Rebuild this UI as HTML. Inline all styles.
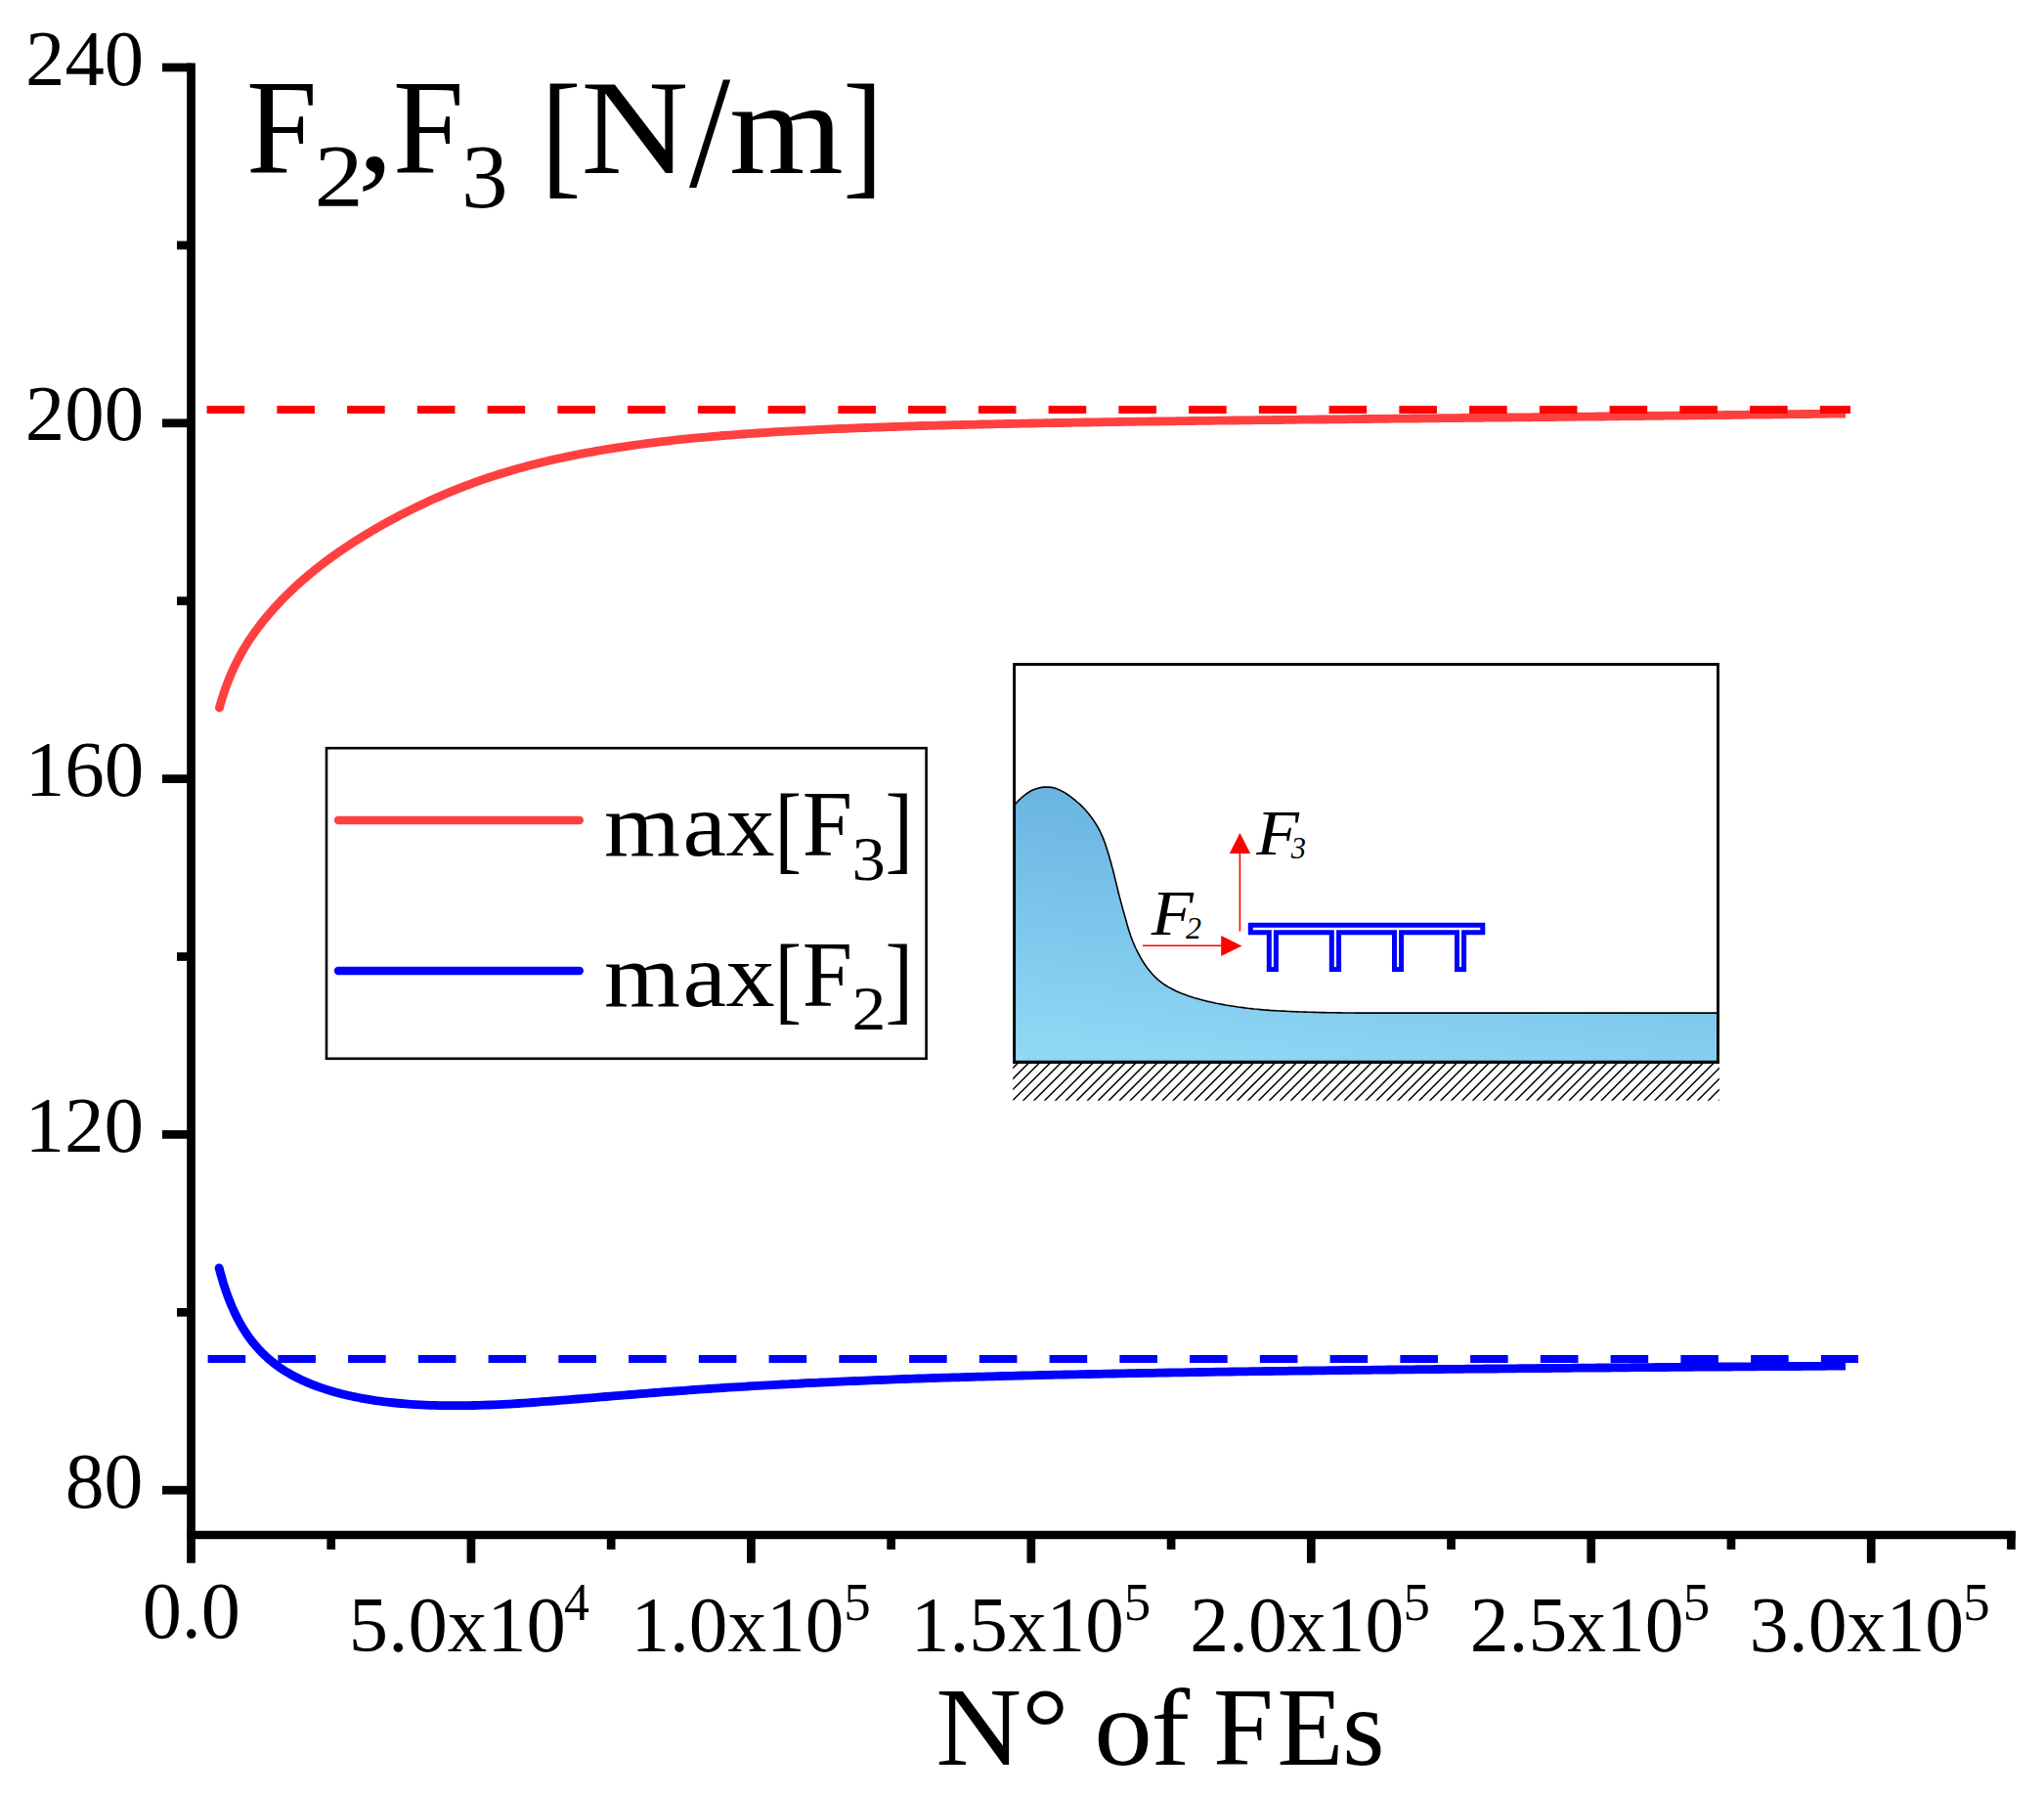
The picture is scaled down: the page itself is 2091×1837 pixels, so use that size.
<!DOCTYPE html>
<html><head><meta charset="utf-8"><title>F2,F3 convergence</title>
<style>html,body{margin:0;padding:0;background:#fff}svg{display:block}text{font-family:"Liberation Serif","DejaVu Serif",serif;white-space:pre;font-kerning:none}</style>
</head><body>
<svg width="2091" height="1837" viewBox="0 0 2091 1837">
<rect width="2091" height="1837" fill="#fff"/>
<g id="curves">
<path d="M224.4 724.0 L225.9 718.8 L227.4 713.8 L228.9 709.2 L230.4 704.8 L231.9 700.7 L233.4 696.7 L234.9 693.0 L236.4 689.4 L237.9 686.0 L239.4 682.7 L240.9 679.6 L242.4 676.6 L243.9 673.6 L245.4 670.8 L246.9 668.1 L248.4 665.5 L249.9 662.9 L251.4 660.5 L252.9 658.0 L254.4 655.7 L255.9 653.4 L257.4 651.2 L258.9 649.0 L260.4 646.9 L261.9 644.8 L263.4 642.8 L264.9 640.8 L266.4 638.8 L267.9 636.9 L269.4 635.0 L270.9 633.2 L272.4 631.4 L273.9 629.6 L275.4 627.8 L276.9 626.1 L278.4 624.4 L279.9 622.7 L281.4 621.0 L282.9 619.4 L284.4 617.8 L285.9 616.2 L287.4 614.6 L288.9 613.0 L290.4 611.5 L291.9 610.0 L293.4 608.5 L294.9 607.0 L296.4 605.6 L297.9 604.1 L299.4 602.7 L300.9 601.3 L302.4 599.9 L303.9 598.5 L305.4 597.2 L306.9 595.8 L308.4 594.5 L309.9 593.2 L311.4 591.9 L312.9 590.6 L314.4 589.3 L315.9 588.1 L317.4 586.8 L318.9 585.6 L320.4 584.4 L321.9 583.1 L323.4 581.9 L324.9 580.7 L326.4 579.6 L327.9 578.4 L329.4 577.2 L330.9 576.1 L332.4 575.0 L333.9 573.8 L335.4 572.7 L336.9 571.6 L338.4 570.5 L339.9 569.4 L341.4 568.4 L342.9 567.3 L344.4 566.2 L345.9 565.2 L347.4 564.1 L348.9 563.1 L350.4 562.1 L351.9 561.1 L353.4 560.1 L354.9 559.1 L356.4 558.1 L357.9 557.1 L359.4 556.1 L360.9 555.1 L362.4 554.2 L363.9 553.2 L365.4 552.2 L366.9 551.3 L368.4 550.4 L369.9 549.4 L371.4 548.5 L372.9 547.6 L374.4 546.7 L375.9 545.8 L377.4 544.9 L378.9 544.0 L380.4 543.1 L381.9 542.2 L383.4 541.3 L384.9 540.5 L386.4 539.6 L387.9 538.7 L389.4 537.9 L390.9 537.0 L392.4 536.2 L393.9 535.4 L395.4 534.5 L396.9 533.7 L398.4 532.9 L399.9 532.1 L400.0 532.0 L405.0 529.3 L410.0 526.7 L415.0 524.1 L420.0 521.6 L425.0 519.1 L430.0 516.7 L435.0 514.4 L440.0 512.1 L445.0 509.8 L450.0 507.6 L455.0 505.5 L460.0 503.4 L465.0 501.4 L470.0 499.4 L475.0 497.4 L480.0 495.6 L485.0 493.7 L490.0 491.9 L495.0 490.2 L500.0 488.5 L505.0 486.9 L510.0 485.3 L515.0 483.7 L520.0 482.2 L525.0 480.7 L530.0 479.3 L535.0 477.9 L540.0 476.5 L545.0 475.2 L550.0 474.0 L555.0 472.7 L560.0 471.5 L565.0 470.4 L570.0 469.3 L575.0 468.2 L580.0 467.1 L585.0 466.1 L590.0 465.1 L595.0 464.1 L600.0 463.2 L605.0 462.3 L610.0 461.4 L615.0 460.5 L620.0 459.7 L625.0 458.9 L630.0 458.1 L635.0 457.3 L640.0 456.6 L645.0 455.9 L650.0 455.2 L655.0 454.5 L660.0 453.8 L665.0 453.2 L670.0 452.6 L675.0 451.9 L680.0 451.4 L685.0 450.8 L690.0 450.2 L695.0 449.7 L700.0 449.2 L705.0 448.7 L710.0 448.2 L715.0 447.7 L720.0 447.3 L725.0 446.8 L730.0 446.4 L735.0 446.0 L740.0 445.5 L745.0 445.2 L750.0 444.8 L755.0 444.4 L760.0 444.0 L765.0 443.7 L770.0 443.3 L775.0 443.0 L780.0 442.7 L785.0 442.3 L790.0 442.0 L795.0 441.7 L800.0 441.4 L805.0 441.2 L810.0 440.9 L815.0 440.6 L820.0 440.4 L825.0 440.1 L830.0 439.9 L835.0 439.6 L840.0 439.4 L845.0 439.1 L850.0 438.9 L855.0 438.7 L860.0 438.5 L865.0 438.3 L870.0 438.1 L875.0 437.9 L880.0 437.7 L885.0 437.5 L890.0 437.3 L895.0 437.1 L900.0 437.0 L905.0 436.8 L910.0 436.6 L915.0 436.5 L920.0 436.3 L925.0 436.1 L930.0 436.0 L935.0 435.8 L940.0 435.7 L945.0 435.5 L950.0 435.4 L955.0 435.3 L960.0 435.1 L965.0 435.0 L970.0 434.9 L975.0 434.7 L980.0 434.6 L985.0 434.5 L990.0 434.4 L995.0 434.3 L1000.0 434.1 L1005.0 434.0 L1010.0 433.9 L1015.0 433.8 L1020.0 433.7 L1025.0 433.6 L1030.0 433.5 L1035.0 433.4 L1040.0 433.3 L1045.0 433.2 L1050.0 433.1 L1055.0 433.0 L1060.0 432.9 L1065.0 432.8 L1070.0 432.7 L1075.0 432.6 L1080.0 432.5 L1085.0 432.5 L1090.0 432.4 L1095.0 432.3 L1100.0 432.2 L1105.0 432.1 L1110.0 432.0 L1115.0 432.0 L1120.0 431.9 L1125.0 431.8 L1130.0 431.7 L1135.0 431.7 L1140.0 431.6 L1145.0 431.5 L1150.0 431.4 L1155.0 431.4 L1160.0 431.3 L1165.0 431.2 L1170.0 431.2 L1175.0 431.1 L1180.0 431.0 L1185.0 431.0 L1190.0 430.9 L1195.0 430.8 L1200.0 430.8 L1205.0 430.7 L1210.0 430.6 L1215.0 430.6 L1220.0 430.5 L1225.0 430.4 L1230.0 430.4 L1235.0 430.3 L1240.0 430.3 L1245.0 430.2 L1250.0 430.1 L1255.0 430.1 L1260.0 430.0 L1265.0 430.0 L1270.0 429.9 L1275.0 429.8 L1280.0 429.8 L1285.0 429.7 L1290.0 429.7 L1295.0 429.6 L1300.0 429.6 L1305.0 429.5 L1310.0 429.5 L1315.0 429.4 L1320.0 429.3 L1325.0 429.3 L1330.0 429.2 L1335.0 429.2 L1340.0 429.1 L1345.0 429.1 L1350.0 429.0 L1355.0 429.0 L1360.0 428.9 L1365.0 428.9 L1370.0 428.8 L1375.0 428.8 L1380.0 428.7 L1385.0 428.6 L1390.0 428.6 L1395.0 428.5 L1400.0 428.5 L1405.0 428.4 L1410.0 428.4 L1415.0 428.3 L1420.0 428.3 L1425.0 428.2 L1430.0 428.2 L1435.0 428.1 L1440.0 428.1 L1445.0 428.0 L1450.0 428.0 L1455.0 427.9 L1460.0 427.9 L1465.0 427.8 L1470.0 427.8 L1475.0 427.7 L1480.0 427.7 L1485.0 427.6 L1490.0 427.6 L1495.0 427.5 L1500.0 427.4 L1505.0 427.4 L1510.0 427.3 L1515.0 427.3 L1520.0 427.2 L1525.0 427.2 L1530.0 427.1 L1535.0 427.1 L1540.0 427.0 L1545.0 427.0 L1550.0 426.9 L1555.0 426.9 L1560.0 426.8 L1565.0 426.8 L1570.0 426.7 L1575.0 426.7 L1580.0 426.6 L1585.0 426.5 L1590.0 426.5 L1595.0 426.4 L1600.0 426.4 L1605.0 426.3 L1610.0 426.3 L1615.0 426.2 L1620.0 426.2 L1625.0 426.1 L1630.0 426.1 L1635.0 426.0 L1640.0 426.0 L1645.0 425.9 L1650.0 425.8 L1655.0 425.8 L1660.0 425.7 L1665.0 425.7 L1670.0 425.6 L1675.0 425.6 L1680.0 425.5 L1685.0 425.4 L1690.0 425.4 L1695.0 425.3 L1700.0 425.3 L1705.0 425.2 L1710.0 425.2 L1715.0 425.1 L1720.0 425.0 L1725.0 425.0 L1730.0 424.9 L1735.0 424.9 L1740.0 424.8 L1745.0 424.8 L1750.0 424.7 L1755.0 424.6 L1760.0 424.6 L1765.0 424.5 L1770.0 424.5 L1775.0 424.4 L1780.0 424.3 L1785.0 424.3 L1790.0 424.2 L1795.0 424.2 L1800.0 424.1 L1805.0 424.0 L1810.0 424.0 L1815.0 423.9 L1820.0 423.9 L1825.0 423.8 L1830.0 423.7 L1835.0 423.7 L1840.0 423.6 L1845.0 423.5 L1850.0 423.5 L1855.0 423.4 L1860.0 423.4 L1865.0 423.3 L1870.0 423.2 L1875.0 423.2 L1880.0 423.1 L1885.0 423.0 L1888.0 423.0" fill="none" stroke="#FF4040" stroke-width="8.8" stroke-linejoin="round"/>
<circle cx="224.4" cy="724.0" r="4.4" fill="#FF4040"/>
<path d="M211.6 419.1H1893" stroke="#FF0000" stroke-width="8" stroke-dasharray="38.6 33.15" fill="none"/>
<path d="M224.1 1296.9 L225.6 1302.5 L227.1 1307.8 L228.6 1312.8 L230.1 1317.4 L231.6 1321.8 L233.1 1326.0 L234.6 1329.9 L236.1 1333.6 L237.6 1337.2 L239.1 1340.5 L240.6 1343.7 L242.1 1346.8 L243.6 1349.7 L245.1 1352.5 L246.6 1355.2 L248.1 1357.7 L249.6 1360.1 L251.1 1362.5 L252.6 1364.7 L254.1 1366.9 L255.6 1369.0 L257.1 1371.0 L258.6 1372.9 L260.1 1374.7 L261.6 1376.5 L263.1 1378.2 L264.6 1379.9 L266.1 1381.5 L267.6 1383.1 L269.1 1384.6 L270.6 1386.0 L272.1 1387.4 L273.6 1388.8 L275.1 1390.1 L276.6 1391.4 L278.1 1392.6 L279.6 1393.8 L281.1 1395.0 L282.6 1396.1 L284.1 1397.2 L285.6 1398.3 L287.1 1399.3 L288.6 1400.3 L290.1 1401.3 L291.6 1402.3 L293.1 1403.2 L294.6 1404.1 L296.1 1405.0 L297.6 1405.8 L299.1 1406.7 L300.6 1407.5 L302.1 1408.3 L303.6 1409.0 L305.1 1409.8 L306.6 1410.5 L308.1 1411.2 L309.6 1411.9 L311.1 1412.6 L312.6 1413.3 L314.1 1413.9 L315.6 1414.6 L317.1 1415.2 L318.6 1415.8 L320.1 1416.4 L321.6 1417.0 L323.1 1417.5 L324.6 1418.1 L326.1 1418.6 L327.6 1419.2 L329.1 1419.7 L330.6 1420.2 L332.1 1420.7 L333.6 1421.2 L335.1 1421.6 L336.6 1422.1 L338.1 1422.6 L339.6 1423.0 L341.1 1423.4 L342.6 1423.9 L344.1 1424.3 L345.6 1424.7 L347.1 1425.1 L348.6 1425.5 L350.1 1425.9 L351.6 1426.2 L353.1 1426.6 L354.6 1426.9 L356.1 1427.3 L357.6 1427.6 L359.1 1428.0 L360.6 1428.3 L362.1 1428.6 L363.6 1428.9 L365.1 1429.2 L366.6 1429.5 L368.1 1429.8 L369.6 1430.1 L371.1 1430.4 L372.6 1430.6 L374.1 1430.9 L375.6 1431.2 L377.1 1431.4 L378.6 1431.7 L380.1 1431.9 L381.6 1432.1 L383.1 1432.4 L384.6 1432.6 L386.1 1432.8 L387.6 1433.0 L389.1 1433.2 L390.6 1433.4 L392.1 1433.6 L393.6 1433.8 L395.1 1434.0 L396.6 1434.1 L398.1 1434.3 L399.6 1434.5 L400.0 1434.5 L405.0 1435.0 L410.0 1435.5 L415.0 1435.9 L420.0 1436.3 L425.0 1436.6 L430.0 1436.9 L435.0 1437.1 L440.0 1437.3 L445.0 1437.4 L450.0 1437.6 L455.0 1437.6 L460.0 1437.7 L465.0 1437.7 L470.0 1437.7 L475.0 1437.6 L480.0 1437.6 L485.0 1437.5 L490.0 1437.3 L495.0 1437.2 L500.0 1437.0 L505.0 1436.8 L510.0 1436.6 L515.0 1436.3 L520.0 1436.1 L525.0 1435.8 L530.0 1435.5 L535.0 1435.1 L540.0 1434.8 L545.0 1434.5 L550.0 1434.1 L555.0 1433.7 L560.0 1433.4 L565.0 1433.0 L570.0 1432.6 L575.0 1432.2 L580.0 1431.8 L585.0 1431.4 L590.0 1431.0 L595.0 1430.6 L600.0 1430.2 L605.0 1429.8 L610.0 1429.3 L615.0 1428.9 L620.0 1428.5 L625.0 1428.1 L630.0 1427.7 L635.0 1427.3 L640.0 1426.9 L645.0 1426.5 L650.0 1426.1 L655.0 1425.7 L660.0 1425.3 L665.0 1424.9 L670.0 1424.5 L675.0 1424.1 L680.0 1423.7 L685.0 1423.4 L690.0 1423.0 L695.0 1422.6 L700.0 1422.3 L705.0 1421.9 L710.0 1421.5 L715.0 1421.2 L720.0 1420.9 L725.0 1420.5 L730.0 1420.2 L735.0 1419.9 L740.0 1419.5 L745.0 1419.2 L750.0 1418.9 L755.0 1418.6 L760.0 1418.3 L765.0 1418.0 L770.0 1417.7 L775.0 1417.4 L780.0 1417.1 L785.0 1416.9 L790.0 1416.6 L795.0 1416.3 L800.0 1416.0 L805.0 1415.8 L810.0 1415.5 L815.0 1415.3 L820.0 1415.0 L825.0 1414.7 L830.0 1414.5 L835.0 1414.3 L840.0 1414.0 L845.0 1413.8 L850.0 1413.6 L855.0 1413.3 L860.0 1413.1 L865.0 1412.9 L870.0 1412.7 L875.0 1412.5 L880.0 1412.3 L885.0 1412.1 L890.0 1411.9 L895.0 1411.7 L900.0 1411.5 L905.0 1411.3 L910.0 1411.1 L915.0 1410.9 L920.0 1410.7 L925.0 1410.5 L930.0 1410.4 L935.0 1410.2 L940.0 1410.0 L945.0 1409.9 L950.0 1409.7 L955.0 1409.5 L960.0 1409.4 L965.0 1409.2 L970.0 1409.1 L975.0 1408.9 L980.0 1408.8 L985.0 1408.6 L990.0 1408.5 L995.0 1408.3 L1000.0 1408.2 L1005.0 1408.1 L1010.0 1407.9 L1015.0 1407.8 L1020.0 1407.7 L1025.0 1407.5 L1030.0 1407.4 L1035.0 1407.3 L1040.0 1407.1 L1045.0 1407.0 L1050.0 1406.9 L1055.0 1406.8 L1060.0 1406.7 L1065.0 1406.5 L1070.0 1406.4 L1075.0 1406.3 L1080.0 1406.2 L1085.0 1406.1 L1090.0 1406.0 L1095.0 1405.9 L1100.0 1405.8 L1105.0 1405.7 L1110.0 1405.6 L1115.0 1405.5 L1120.0 1405.4 L1125.0 1405.3 L1130.0 1405.2 L1135.0 1405.1 L1140.0 1405.0 L1145.0 1404.9 L1150.0 1404.8 L1155.0 1404.7 L1160.0 1404.6 L1165.0 1404.5 L1170.0 1404.4 L1175.0 1404.4 L1180.0 1404.3 L1185.0 1404.2 L1190.0 1404.1 L1195.0 1404.0 L1200.0 1403.9 L1205.0 1403.9 L1210.0 1403.8 L1215.0 1403.7 L1220.0 1403.6 L1225.0 1403.5 L1230.0 1403.5 L1235.0 1403.4 L1240.0 1403.3 L1245.0 1403.2 L1250.0 1403.2 L1255.0 1403.1 L1260.0 1403.0 L1265.0 1402.9 L1270.0 1402.9 L1275.0 1402.8 L1280.0 1402.7 L1285.0 1402.7 L1290.0 1402.6 L1295.0 1402.5 L1300.0 1402.5 L1305.0 1402.4 L1310.0 1402.3 L1315.0 1402.3 L1320.0 1402.2 L1325.0 1402.1 L1330.0 1402.1 L1335.0 1402.0 L1340.0 1402.0 L1345.0 1401.9 L1350.0 1401.8 L1355.0 1401.8 L1360.0 1401.7 L1365.0 1401.7 L1370.0 1401.6 L1375.0 1401.5 L1380.0 1401.5 L1385.0 1401.4 L1390.0 1401.4 L1395.0 1401.3 L1400.0 1401.3 L1405.0 1401.2 L1410.0 1401.2 L1415.0 1401.1 L1420.0 1401.0 L1425.0 1401.0 L1430.0 1400.9 L1435.0 1400.9 L1440.0 1400.8 L1445.0 1400.8 L1450.0 1400.7 L1455.0 1400.7 L1460.0 1400.6 L1465.0 1400.6 L1470.0 1400.5 L1475.0 1400.5 L1480.0 1400.4 L1485.0 1400.4 L1490.0 1400.3 L1495.0 1400.3 L1500.0 1400.2 L1505.0 1400.2 L1510.0 1400.1 L1515.0 1400.1 L1520.0 1400.0 L1525.0 1400.0 L1530.0 1400.0 L1535.0 1399.9 L1540.0 1399.9 L1545.0 1399.8 L1550.0 1399.8 L1555.0 1399.7 L1560.0 1399.7 L1565.0 1399.6 L1570.0 1399.6 L1575.0 1399.5 L1580.0 1399.5 L1585.0 1399.5 L1590.0 1399.4 L1595.0 1399.4 L1600.0 1399.3 L1605.0 1399.3 L1610.0 1399.2 L1615.0 1399.2 L1620.0 1399.2 L1625.0 1399.1 L1630.0 1399.1 L1635.0 1399.0 L1640.0 1399.0 L1645.0 1399.0 L1650.0 1398.9 L1655.0 1398.9 L1660.0 1398.8 L1665.0 1398.8 L1670.0 1398.7 L1675.0 1398.7 L1680.0 1398.7 L1685.0 1398.6 L1690.0 1398.6 L1695.0 1398.5 L1700.0 1398.5 L1705.0 1398.5 L1710.0 1398.4 L1715.0 1398.4 L1720.0 1398.4 L1725.0 1398.3 L1730.0 1398.3 L1735.0 1398.2 L1740.0 1398.2 L1745.0 1398.2 L1750.0 1398.1 L1755.0 1398.1 L1760.0 1398.0 L1765.0 1398.0 L1770.0 1398.0 L1775.0 1397.9 L1780.0 1397.9 L1785.0 1397.9 L1790.0 1397.8 L1795.0 1397.8 L1800.0 1397.7 L1805.0 1397.7 L1810.0 1397.7 L1815.0 1397.6 L1820.0 1397.6 L1825.0 1397.6 L1830.0 1397.5 L1835.0 1397.5 L1840.0 1397.5 L1845.0 1397.4 L1850.0 1397.4 L1855.0 1397.3 L1860.0 1397.3 L1865.0 1397.3 L1870.0 1397.2 L1875.0 1397.2 L1880.0 1397.2 L1885.0 1397.1 L1888.0 1397.1" fill="none" stroke="#0000FF" stroke-width="8.8" stroke-linejoin="round"/>
<circle cx="224.1" cy="1296.9" r="4.4" fill="#0000FF"/>
<path d="M212.6 1390H1901" stroke="#0000FF" stroke-width="8.1" stroke-dasharray="38.6 33.15" fill="none"/>
</g>
<g id="axes" stroke="#000" stroke-width="8.7" fill="none">
<path d="M195.50 64.6V1598.7" />
<path d="M191.1 1570H2062" />
<path d="M166 69.00H195.5"/>
<path d="M166 432.80H195.5"/>
<path d="M166 796.60H195.5"/>
<path d="M166 1160.40H195.5"/>
<path d="M166 1524.20H195.5"/>
<path d="M181 250.90H195.5"/>
<path d="M181 614.70H195.5"/>
<path d="M181 978.50H195.5"/>
<path d="M181 1342.30H195.5"/>
<path d="M481.95 1570V1598.7"/>
<path d="M768.40 1570V1598.7"/>
<path d="M1054.85 1570V1598.7"/>
<path d="M1341.30 1570V1598.7"/>
<path d="M1627.75 1570V1598.7"/>
<path d="M1914.20 1570V1598.7"/>
<path d="M338.73 1570V1584.8"/>
<path d="M625.17 1570V1584.8"/>
<path d="M911.62 1570V1584.8"/>
<path d="M1198.07 1570V1584.8"/>
<path d="M1484.52 1570V1584.8"/>
<path d="M1770.97 1570V1584.8"/>
<path d="M2057.43 1570V1584.8"/>
</g>
<g id="legend">
<rect x="334" y="765.2" width="613.6" height="317.6" fill="#fff" stroke="#000" stroke-width="2.6"/>
<path d="M346 839H592.8" stroke="#FF4040" stroke-width="8.4" stroke-linecap="round"/>
<path d="M346 993H592.8" stroke="#0000FF" stroke-width="8.4" stroke-linecap="round"/>
</g>
<g id="inset">
<defs><linearGradient id="wg" x1="1070" y1="805" x2="1036.5" y2="1084.6" gradientUnits="userSpaceOnUse"><stop offset="0" stop-color="#6AB4E2"/><stop offset="1" stop-color="#91DAF6"/></linearGradient>
<clipPath id="hc"><rect x="1036.2" y="1087" width="722.7" height="38.7"/></clipPath></defs>
<rect x="1037.6" y="679.5" width="719.9" height="406.9" fill="#fff" stroke="none"/>
<path d="M1037.6 823.6 L1039.7 821.2 L1041.9 818.8 L1044.3 816.5 L1046.8 814.3 L1049.4 812.3 L1052.1 810.5 L1054.9 808.8 L1057.9 807.5 L1061.0 806.4 L1064.2 805.6 L1067.4 805.1 L1070.7 805.0 L1074.0 805.1 L1077.2 805.6 L1080.3 806.5 L1083.4 807.7 L1086.3 809.1 L1089.2 810.7 L1091.9 812.5 L1094.6 814.4 L1097.2 816.3 L1099.8 818.4 L1102.2 820.5 L1104.7 822.7 L1107.0 824.9 L1109.3 827.3 L1111.5 829.7 L1113.6 832.2 L1115.6 834.7 L1117.6 837.4 L1119.4 840.1 L1121.2 842.9 L1122.8 845.7 L1124.4 848.5 L1125.9 851.5 L1127.2 854.4 L1128.5 857.4 L1129.7 860.5 L1130.8 863.6 L1131.8 866.7 L1132.8 869.8 L1133.8 872.9 L1134.7 876.0 L1135.6 879.2 L1136.5 882.3 L1137.3 885.5 L1138.2 888.6 L1139.0 891.8 L1139.8 894.9 L1140.5 898.1 L1141.3 901.3 L1142.1 904.4 L1142.9 907.6 L1143.6 910.8 L1144.4 914.0 L1145.2 917.1 L1146.1 920.3 L1146.9 923.4 L1147.8 926.6 L1148.6 929.7 L1149.5 932.9 L1150.4 936.0 L1151.3 939.1 L1152.2 942.3 L1153.0 945.4 L1153.9 948.6 L1154.9 951.7 L1155.9 954.8 L1156.9 957.9 L1158.1 961.0 L1159.3 964.0 L1160.6 967.0 L1161.9 970.0 L1163.4 972.9 L1164.9 975.8 L1166.4 978.7 L1168.0 981.5 L1169.7 984.3 L1171.5 987.0 L1173.4 989.7 L1175.4 992.3 L1177.5 994.8 L1179.7 997.3 L1182.0 999.6 L1184.4 1001.8 L1186.9 1003.9 L1189.5 1005.9 L1192.2 1007.7 L1195.0 1009.4 L1197.9 1011.0 L1200.8 1012.5 L1203.8 1013.9 L1206.8 1015.2 L1209.8 1016.4 L1212.8 1017.6 L1215.9 1018.7 L1219.0 1019.7 L1222.1 1020.7 L1225.2 1021.6 L1228.4 1022.5 L1231.5 1023.3 L1234.7 1024.1 L1237.9 1024.8 L1241.1 1025.5 L1244.3 1026.2 L1247.5 1026.8 L1250.7 1027.4 L1253.9 1028.0 L1257.1 1028.5 L1260.4 1029.0 L1263.6 1029.5 L1266.8 1030.0 L1270.1 1030.4 L1273.3 1030.9 L1276.5 1031.3 L1279.8 1031.6 L1283.0 1032.0 L1286.3 1032.3 L1289.5 1032.6 L1292.8 1032.9 L1296.0 1033.1 L1299.3 1033.4 L1302.5 1033.6 L1305.8 1033.8 L1309.1 1034.0 L1312.3 1034.1 L1315.6 1034.3 L1318.8 1034.5 L1322.1 1034.6 L1325.4 1034.7 L1328.6 1034.9 L1331.9 1035.0 L1335.1 1035.1 L1338.4 1035.2 L1341.7 1035.3 L1344.9 1035.4 L1348.2 1035.5 L1351.5 1035.6 L1354.7 1035.6 L1358.0 1035.7 L1361.3 1035.8 L1364.5 1035.8 L1367.8 1035.9 L1371.0 1035.9 L1374.3 1036.0 L1377.6 1036.0 L1380.8 1036.0 L1384.1 1036.0 L1387.4 1036.1 L1390.6 1036.1 L1393.9 1036.1 L1397.2 1036.1 L1400.4 1036.1 L1403.7 1036.1 L1406.9 1036.1 L1410.2 1036.1 L1413.5 1036.1 L1416.7 1036.1 L1420.0 1036.1 L1757.5 1036.1 L1757.5 1086.4 L1037.6 1086.4Z" fill="url(#wg)" stroke="none"/>
<path d="M1037.6 823.6 L1039.7 821.2 L1041.9 818.8 L1044.3 816.5 L1046.8 814.3 L1049.4 812.3 L1052.1 810.5 L1054.9 808.8 L1057.9 807.5 L1061.0 806.4 L1064.2 805.6 L1067.4 805.1 L1070.7 805.0 L1074.0 805.1 L1077.2 805.6 L1080.3 806.5 L1083.4 807.7 L1086.3 809.1 L1089.2 810.7 L1091.9 812.5 L1094.6 814.4 L1097.2 816.3 L1099.8 818.4 L1102.2 820.5 L1104.7 822.7 L1107.0 824.9 L1109.3 827.3 L1111.5 829.7 L1113.6 832.2 L1115.6 834.7 L1117.6 837.4 L1119.4 840.1 L1121.2 842.9 L1122.8 845.7 L1124.4 848.5 L1125.9 851.5 L1127.2 854.4 L1128.5 857.4 L1129.7 860.5 L1130.8 863.6 L1131.8 866.7 L1132.8 869.8 L1133.8 872.9 L1134.7 876.0 L1135.6 879.2 L1136.5 882.3 L1137.3 885.5 L1138.2 888.6 L1139.0 891.8 L1139.8 894.9 L1140.5 898.1 L1141.3 901.3 L1142.1 904.4 L1142.9 907.6 L1143.6 910.8 L1144.4 914.0 L1145.2 917.1 L1146.1 920.3 L1146.9 923.4 L1147.8 926.6 L1148.6 929.7 L1149.5 932.9 L1150.4 936.0 L1151.3 939.1 L1152.2 942.3 L1153.0 945.4 L1153.9 948.6 L1154.9 951.7 L1155.9 954.8 L1156.9 957.9 L1158.1 961.0 L1159.3 964.0 L1160.6 967.0 L1161.9 970.0 L1163.4 972.9 L1164.9 975.8 L1166.4 978.7 L1168.0 981.5 L1169.7 984.3 L1171.5 987.0 L1173.4 989.7 L1175.4 992.3 L1177.5 994.8 L1179.7 997.3 L1182.0 999.6 L1184.4 1001.8 L1186.9 1003.9 L1189.5 1005.9 L1192.2 1007.7 L1195.0 1009.4 L1197.9 1011.0 L1200.8 1012.5 L1203.8 1013.9 L1206.8 1015.2 L1209.8 1016.4 L1212.8 1017.6 L1215.9 1018.7 L1219.0 1019.7 L1222.1 1020.7 L1225.2 1021.6 L1228.4 1022.5 L1231.5 1023.3 L1234.7 1024.1 L1237.9 1024.8 L1241.1 1025.5 L1244.3 1026.2 L1247.5 1026.8 L1250.7 1027.4 L1253.9 1028.0 L1257.1 1028.5 L1260.4 1029.0 L1263.6 1029.5 L1266.8 1030.0 L1270.1 1030.4 L1273.3 1030.9 L1276.5 1031.3 L1279.8 1031.6 L1283.0 1032.0 L1286.3 1032.3 L1289.5 1032.6 L1292.8 1032.9 L1296.0 1033.1 L1299.3 1033.4 L1302.5 1033.6 L1305.8 1033.8 L1309.1 1034.0 L1312.3 1034.1 L1315.6 1034.3 L1318.8 1034.5 L1322.1 1034.6 L1325.4 1034.7 L1328.6 1034.9 L1331.9 1035.0 L1335.1 1035.1 L1338.4 1035.2 L1341.7 1035.3 L1344.9 1035.4 L1348.2 1035.5 L1351.5 1035.6 L1354.7 1035.6 L1358.0 1035.7 L1361.3 1035.8 L1364.5 1035.8 L1367.8 1035.9 L1371.0 1035.9 L1374.3 1036.0 L1377.6 1036.0 L1380.8 1036.0 L1384.1 1036.0 L1387.4 1036.1 L1390.6 1036.1 L1393.9 1036.1 L1397.2 1036.1 L1400.4 1036.1 L1403.7 1036.1 L1406.9 1036.1 L1410.2 1036.1 L1413.5 1036.1 L1416.7 1036.1 L1420.0 1036.1 L1757.5 1036.1" fill="none" stroke="#000" stroke-width="1.6"/>
<path d="M980.7 1126L1020.7 1086M991.7 1126L1031.7 1086M1002.6 1126L1042.6 1086M1013.6 1126L1053.6 1086M1024.5 1126L1064.5 1086M1035.5 1126L1075.5 1086M1046.4 1126L1086.4 1086M1057.4 1126L1097.4 1086M1068.3 1126L1108.3 1086M1079.3 1126L1119.3 1086M1090.2 1126L1130.2 1086M1101.2 1126L1141.2 1086M1112.1 1126L1152.1 1086M1123.1 1126L1163.1 1086M1134.0 1126L1174.0 1086M1145.0 1126L1185.0 1086M1155.9 1126L1195.9 1086M1166.9 1126L1206.9 1086M1177.8 1126L1217.8 1086M1188.8 1126L1228.8 1086M1199.7 1126L1239.7 1086M1210.7 1126L1250.7 1086M1221.6 1126L1261.6 1086M1232.6 1126L1272.6 1086M1243.5 1126L1283.5 1086M1254.5 1126L1294.5 1086M1265.4 1126L1305.4 1086M1276.4 1126L1316.4 1086M1287.3 1126L1327.3 1086M1298.3 1126L1338.3 1086M1309.2 1126L1349.2 1086M1320.2 1126L1360.2 1086M1331.1 1126L1371.1 1086M1342.1 1126L1382.1 1086M1353.0 1126L1393.0 1086M1364.0 1126L1404.0 1086M1374.9 1126L1414.9 1086M1385.9 1126L1425.9 1086M1396.8 1126L1436.8 1086M1407.8 1126L1447.8 1086M1418.7 1126L1458.7 1086M1429.7 1126L1469.7 1086M1440.6 1126L1480.6 1086M1451.6 1126L1491.6 1086M1462.5 1126L1502.5 1086M1473.5 1126L1513.5 1086M1484.4 1126L1524.4 1086M1495.4 1126L1535.4 1086M1506.3 1126L1546.3 1086M1517.3 1126L1557.3 1086M1528.2 1126L1568.2 1086M1539.2 1126L1579.2 1086M1550.1 1126L1590.1 1086M1561.1 1126L1601.1 1086M1572.0 1126L1612.0 1086M1583.0 1126L1623.0 1086M1593.9 1126L1633.9 1086M1604.9 1126L1644.9 1086M1615.8 1126L1655.8 1086M1626.8 1126L1666.8 1086M1637.7 1126L1677.7 1086M1648.7 1126L1688.7 1086M1659.6 1126L1699.6 1086M1670.6 1126L1710.6 1086M1681.5 1126L1721.5 1086M1692.5 1126L1732.5 1086M1703.4 1126L1743.4 1086M1714.4 1126L1754.4 1086M1725.3 1126L1765.3 1086M1736.3 1126L1776.3 1086M1747.2 1126L1787.2 1086M1758.2 1126L1798.2 1086" stroke="#000" stroke-width="1.5" clip-path="url(#hc)"/>
<path d="M1037.6 1087.9V679.5H1757.5V1087.9" fill="none" stroke="#000" stroke-width="2.9"/>
<path d="M1036.15 1086.4H1758.95" fill="none" stroke="#000" stroke-width="3.2"/>
<path d="M1279.3 946.3H1516.8V953.7H1497.6V991.6H1490.5V953.7H1433.6V991.6H1426.5V953.7H1369.6V991.6H1362.3V953.7H1305.4V991.6H1298.3V953.7H1279.3Z" fill="#fff" stroke="#0000FF" stroke-width="5" stroke-linejoin="miter"/>
<path d="M1268.4 952.6V873" stroke="#FF0000" stroke-width="1.6"/><path d="M1268.4 851.9L1279.2 873H1257.8Z" fill="#FF0000"/>
<path d="M1169 967.3H1249.5" stroke="#FF0000" stroke-width="1.6"/><path d="M1270.4 967.5L1249.2 978.1V957.1Z" fill="#FF0000"/>
<text fill="#000"><tspan x="1285.36" y="874.00" font-size="65.80" textLength="43.56" lengthAdjust="spacingAndGlyphs" font-style="italic">F</tspan><tspan x="1320.83" y="878.00" font-size="31.27" textLength="15.24" lengthAdjust="spacingAndGlyphs" font-style="italic">3</tspan></text>
<text fill="#000"><tspan x="1177.75" y="956.00" font-size="65.80" textLength="43.07" lengthAdjust="spacingAndGlyphs" font-style="italic">F</tspan><tspan x="1212.97" y="960.10" font-size="31.42" textLength="16.04" lengthAdjust="spacingAndGlyphs" font-style="italic">2</tspan></text>
</g>
<g id="labels">
<text fill="#000"><tspan x="26.05" y="86.50" font-size="81.20" textLength="121.02" lengthAdjust="spacingAndGlyphs">240</tspan></text>
<text fill="#000"><tspan x="25.84" y="450.30" font-size="81.20" textLength="121.44" lengthAdjust="spacingAndGlyphs">200</tspan></text>
<text fill="#000"><tspan x="25.77" y="814.10" font-size="81.20" textLength="121.51" lengthAdjust="spacingAndGlyphs">160</tspan></text>
<text fill="#000"><tspan x="25.47" y="1177.90" font-size="81.20" textLength="121.62" lengthAdjust="spacingAndGlyphs">120</tspan></text>
<text fill="#000"><tspan x="66.67" y="1541.70" font-size="81.20" textLength="79.65" lengthAdjust="spacingAndGlyphs">80</tspan></text>
<text fill="#000"><tspan x="145.65" y="1675.40" font-size="81.50" textLength="100.30" lengthAdjust="spacingAndGlyphs">0.0</tspan></text>
<text fill="#000"><tspan x="356.87" y="1688.50" font-size="81.05" textLength="222.05" lengthAdjust="spacingAndGlyphs">5.0x10</tspan><tspan x="577.11" y="1657.20" font-size="55.32" textLength="25.97" lengthAdjust="spacingAndGlyphs">4</tspan></text>
<text fill="#000"><tspan x="645.42" y="1688.50" font-size="81.05" textLength="217.99" lengthAdjust="spacingAndGlyphs">1.0x10</tspan><tspan x="863.22" y="1657.20" font-size="55.57" textLength="27.42" lengthAdjust="spacingAndGlyphs">5</tspan></text>
<text fill="#000"><tspan x="931.87" y="1688.50" font-size="81.05" textLength="217.99" lengthAdjust="spacingAndGlyphs">1.5x10</tspan><tspan x="1149.67" y="1657.20" font-size="55.57" textLength="27.42" lengthAdjust="spacingAndGlyphs">5</tspan></text>
<text fill="#000"><tspan x="1217.30" y="1688.50" font-size="81.05" textLength="218.93" lengthAdjust="spacingAndGlyphs">2.0x10</tspan><tspan x="1435.42" y="1657.20" font-size="55.57" textLength="27.42" lengthAdjust="spacingAndGlyphs">5</tspan></text>
<text fill="#000"><tspan x="1503.75" y="1688.50" font-size="81.05" textLength="218.93" lengthAdjust="spacingAndGlyphs">2.5x10</tspan><tspan x="1721.87" y="1657.20" font-size="55.57" textLength="27.42" lengthAdjust="spacingAndGlyphs">5</tspan></text>
<text fill="#000"><tspan x="1789.87" y="1688.50" font-size="81.05" textLength="219.26" lengthAdjust="spacingAndGlyphs">3.0x10</tspan><tspan x="2008.32" y="1657.20" font-size="55.57" textLength="27.42" lengthAdjust="spacingAndGlyphs">5</tspan></text>
<text fill="#000"><tspan x="957.26 1044.97" y="1804.90" font-size="115.27" textLength="136.54" lengthAdjust="spacingAndGlyphs">N°</tspan> <tspan x="1119.36 1177.62" y="1804.90" font-size="111.76" textLength="99.25" lengthAdjust="spacingAndGlyphs">of</tspan> <tspan x="1240.98 1306.60 1373.13" y="1804.90" font-size="115.27" textLength="172.75" lengthAdjust="spacingAndGlyphs">FEs</tspan></text>
<text fill="#000"><tspan x="252.11" y="176.60" font-size="138.47" textLength="72.61" lengthAdjust="spacingAndGlyphs">F</tspan><tspan x="321.48" y="210.60" font-size="91.54" textLength="50.25" lengthAdjust="spacingAndGlyphs">2</tspan><tspan x="365.89" y="174.27" font-size="140.47" textLength="36.91" lengthAdjust="spacingAndGlyphs">,</tspan><tspan x="402.11" y="176.60" font-size="138.47" textLength="72.61" lengthAdjust="spacingAndGlyphs">F</tspan><tspan x="472.02" y="211.77" font-size="93.30" textLength="47.70" lengthAdjust="spacingAndGlyphs">3</tspan> <tspan x="553.47" y="184.05" font-size="141.43" textLength="41.07" lengthAdjust="spacingAndGlyphs">[</tspan><tspan x="594.37" y="176.60" font-size="138.47" textLength="110.27" lengthAdjust="spacingAndGlyphs">N</tspan><tspan x="705.10" y="190.14" font-size="165.92" textLength="42.17" lengthAdjust="spacingAndGlyphs">/</tspan><tspan x="745.95" y="176.60" font-size="135.73" textLength="116.83" lengthAdjust="spacingAndGlyphs">m</tspan><tspan x="862.36" y="184.05" font-size="141.43" textLength="41.07" lengthAdjust="spacingAndGlyphs">]</tspan></text>
<text fill="#000"><tspan x="617.98 698.46 742.45" y="874.90" font-size="93.46" textLength="172.49" lengthAdjust="spacingAndGlyphs">max</tspan><tspan x="792.46" y="880.63" font-size="99.03" textLength="27.63" lengthAdjust="spacingAndGlyphs">[</tspan><tspan x="820.82" y="874.90" font-size="95.57" textLength="51.31" lengthAdjust="spacingAndGlyphs">F</tspan><tspan x="871.51" y="899.76" font-size="63.69" textLength="34.26" lengthAdjust="spacingAndGlyphs">3</tspan><tspan x="905.60" y="880.63" font-size="99.03" textLength="28.67" lengthAdjust="spacingAndGlyphs">]</tspan></text>
<text fill="#000"><tspan x="617.98 698.46 742.45" y="1029.00" font-size="93.46" textLength="172.49" lengthAdjust="spacingAndGlyphs">max</tspan><tspan x="792.46" y="1034.73" font-size="99.03" textLength="27.63" lengthAdjust="spacingAndGlyphs">[</tspan><tspan x="820.82" y="1029.00" font-size="95.57" textLength="51.31" lengthAdjust="spacingAndGlyphs">F</tspan><tspan x="871.63" y="1053.40" font-size="62.54" textLength="34.91" lengthAdjust="spacingAndGlyphs">2</tspan><tspan x="905.60" y="1034.73" font-size="99.03" textLength="28.67" lengthAdjust="spacingAndGlyphs">]</tspan></text>
</g>
</svg>
</body></html>
